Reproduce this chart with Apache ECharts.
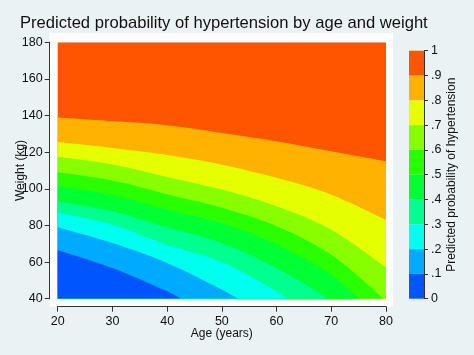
<!DOCTYPE html>
<html>
<head>
<meta charset="utf-8">
<script src="https://cdn.jsdelivr.net/npm/echarts@6/dist/echarts.min.js"></script>
<style>html,body{margin:0;padding:0;background:#eaf2f3;}#c{width:474px;height:355px;}</style>
</head>
<body>
<div id="c"></div>
<script>
// Contour boundaries: [age, weight] where predicted probability crosses each level
var xTicks = [20, 30, 40, 50, 60, 70, 80];
var yTicks = [40, 60, 80, 100, 120, 140, 160, 180];
var levels = [0, 0.1, 0.2, 0.3, 0.4, 0.5, 0.6, 0.7, 0.8, 0.9, 1];
var top100 = [[20, 180], [80, 180]];
var b90 = [[20, 139], [30, 137], [40, 134.7], [50, 130.5], [60, 126], [70, 120.5], [80, 115]];
var b80 = [[20, 125.5], [30, 122.3], [40, 118.4], [50, 113.2], [60, 106], [70, 96.8], [80, 83]];
var b70 = [[20, 117.5], [30, 113.3], [40, 106.5], [50, 99.6], [60, 90.5], [70, 77.7], [80, 57]];
var b60 = [[20, 109], [30, 104.5], [40, 97], [50, 89.6], [60, 79.6], [70, 64], [79.5, 40]];
var b50 = [[20, 101.5], [30, 96.5], [40, 88.6], [50, 81], [60, 69.5], [70, 53], [75, 40]];
var b40 = [[20, 93], [30, 87.8], [40, 79], [50, 70.4], [60, 56.8], [69.5, 40]];
var b30 = [[20, 87], [30, 80.4], [40, 69.5], [50, 60], [60, 44], [62, 40]];
var b20 = [[20, 79], [30, 70.4], [40, 59.5], [50, 45], [53, 40]];
var b10 = [[20, 66.5], [30, 56.8], [40, 44], [42.5, 40]];

var colors = ['#0055ff', '#00aaff', '#00ffee', '#00ff8e', '#00ff33', '#2aff00', '#88ff00', '#e6ff00', '#ffb300', '#ff5500'];

var boundaries = [top100, b90, b80, b70, b60, b50, b40, b30, b20, b10];
var series = [];
boundaries.forEach(function (b, i) {
  series.push({
    type: 'line', xAxisIndex: 0, yAxisIndex: 0, data: b,
    smooth: 0.35, symbol: 'none', silent: true,
    lineStyle: { width: 0, opacity: 0 },
    areaStyle: { color: colors[9 - i], opacity: 1, origin: 'start' },
    z: 2
  });
});
for (var k = 0; k < 10; k++) {
  series.push({
    type: 'bar', xAxisIndex: 1, yAxisIndex: 1, stack: 'cb',
    data: [levels[k + 1] - levels[k]], barWidth: '100%', silent: true,
    itemStyle: { color: colors[k] }
  });
}

var txt = '#111';
var chart = echarts.init(document.getElementById('c'), null, { renderer: 'canvas' });
chart.setOption({
  animation: false,
  backgroundColor: '#eaf2f3',
  title: {
    text: 'Predicted probability of hypertension by age and weight',
    left: 15, top: 10,
    textStyle: { fontFamily: 'Liberation Sans, Arial, sans-serif', fontSize: 16.6, fontWeight: 'normal', color: txt }
  },
  graphic: [{
    type: 'rect', z: -10, silent: true,
    shape: { x: 49.5, y: 33, width: 343.5, height: 273.7 },
    style: { fill: '#ffffff' }
  }],
  grid: [
    { left: 57.7, right: 88, top: 42.3, bottom: 56.3 },
    { left: 409, width: 15, top: 50.7, bottom: 56.3 }
  ],
  xAxis: [{
    type: 'value', gridIndex: 0, min: 20, max: 80, interval: 10, offset: 8,
    name: 'Age (years)', nameLocation: 'middle', nameGap: 21, nameMoveOverlap: false,
    nameTextStyle: { fontFamily: 'Liberation Sans, Arial, sans-serif', fontSize: 12, color: txt },
    axisLine: { show: true, lineStyle: { color: '#333', width: 1 } },
    axisTick: { show: true, length: 5, lineStyle: { color: '#333' } },
    axisLabel: { margin: 8, fontFamily: 'Liberation Sans, Arial, sans-serif', fontSize: 12.5, color: txt },
    splitLine: { show: false }
  }, {
    type: 'category', gridIndex: 1, data: ['p'], show: false
  }],
  yAxis: [{
    type: 'value', gridIndex: 0, min: 40, max: 180, interval: 20, offset: 8,
    name: 'Weight (kg)', nameLocation: 'middle', nameGap: 23, nameMoveOverlap: false,
    nameTextStyle: { fontFamily: 'Liberation Sans, Arial, sans-serif', fontSize: 12, color: txt },
    axisLine: { show: true, lineStyle: { color: '#333', width: 1 } },
    axisTick: { show: true, length: 5, lineStyle: { color: '#333' } },
    axisLabel: { margin: 7, fontFamily: 'Liberation Sans, Arial, sans-serif', fontSize: 12.5, color: txt },
    splitLine: { show: false }
  }, {
    type: 'value', gridIndex: 1, min: 0, max: 1, interval: 0.1, position: 'right',
    name: 'Predicted probability of hypertension', nameLocation: 'middle', nameGap: 22, nameMoveOverlap: false,
    nameTextStyle: { fontFamily: 'Liberation Sans, Arial, sans-serif', fontSize: 12, color: txt },
    axisLine: { show: true, lineStyle: { color: '#333', width: 1 } },
    axisTick: { show: true, length: 4, lineStyle: { color: '#333' } },
    axisLabel: {
      margin: 7, fontFamily: 'Liberation Sans, Arial, sans-serif', fontSize: 12.5, color: txt,
      formatter: function (v) {
        var r = Math.round(v * 10) / 10;
        if (r === 0) return '0';
        if (r === 1) return '1';
        return String(r).replace(/^0/, '');
      }
    },
    splitLine: { show: false }
  }],
  series: series
});
</script>
</body>
</html>
